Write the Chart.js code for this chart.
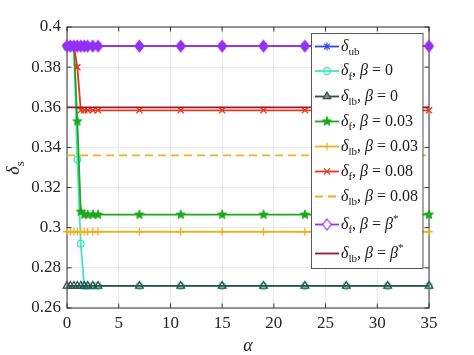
<!DOCTYPE html>
<html><head><meta charset="utf-8">
<script src="https://cdn.jsdelivr.net/npm/chart.js@4.4.0/dist/chart.umd.min.js"></script>
<style>html,body{margin:0;padding:0;background:#fff;}#wrap{width:474px;height:355px;position:relative;}</style>
</head><body><div id="wrap"><canvas id="c" width="474" height="355"></canvas></div>
<script>
// ---- data ----
const alpha = [0, 0.33, 0.67, 1, 1.33, 1.67, 2, 2.5, 3, 7, 11, 15, 19, 23, 27, 31, 35];
const deltaUb      = [0.3905,0.3905,0.3905,0.3905,0.3905,0.3905,0.3905,0.3905,0.3905,0.3905,0.3905,0.3905,0.3905,0.3905,0.3905,0.3905,0.3905];
const deltaF_b0    = [0.3905,0.3905,0.3905,0.334,0.292,0.271,0.271,0.271,0.271,0.271,0.271,0.271,0.271,0.271,0.271,0.271,0.271];
const deltaLb_b0   = [0.271,0.271,0.271,0.271,0.271,0.271,0.271,0.271,0.271,0.271,0.271,0.271,0.271,0.271,0.271,0.271,0.271];
const deltaF_b003  = [0.3905,0.3905,0.3905,0.353,0.308,0.3065,0.3065,0.3065,0.3065,0.3065,0.3065,0.3065,0.3065,0.3065,0.3065,0.3065,0.3065];
const deltaLb_b003 = [0.298,0.298,0.298,0.298,0.298,0.298,0.298,0.298,0.298,0.298,0.298,0.298,0.298,0.298,0.298,0.298,0.298];
const deltaF_b008  = [0.3905,0.3905,0.3905,0.38,0.3585,0.3585,0.3585,0.3585,0.3585,0.3585,0.3585,0.3585,0.3585,0.3585,0.3585,0.3585,0.3585];
const deltaLb_b008 = [0.336,0.336,0.336,0.336,0.336,0.336,0.336,0.336,0.336,0.336,0.336,0.336,0.336,0.336,0.336,0.336,0.336];
const deltaF_bs    = [0.3905,0.3905,0.3905,0.3905,0.3905,0.3905,0.3905,0.3905,0.3905,0.3905,0.3905,0.3905,0.3905,0.3905,0.3905,0.3905,0.3905];
const deltaLb_bs   = [0.36,0.36,0.36,0.36,0.36,0.36,0.36,0.36,0.36,0.36,0.36,0.36,0.36,0.36,0.36,0.36,0.36];
const xTicks = [0, 5, 10, 15, 20, 25, 30, 35];
const xTickLabels = ['0','5','10','15','20','25','30','35'];
const yTicks = [0.26, 0.28, 0.30, 0.32, 0.34, 0.36, 0.38, 0.40];
const yTickLabels = ['0.26','0.28','0.3','0.32','0.34','0.36','0.38','0.4'];

// ---- marker images ----
function starImg(color, R, fill) {
  const s = Math.ceil(2*R+4), c = document.createElement('canvas'); c.width = s; c.height = s;
  const g = c.getContext('2d'); g.beginPath();
  for (let i = 0; i < 10; i++) {
    const r = i % 2 ? R*0.42 : R, a = -Math.PI/2 + i*Math.PI/5;
    const px = s/2 + r*Math.cos(a), py = s/2 + r*Math.sin(a);
    i ? g.lineTo(px, py) : g.moveTo(px, py);
  }
  g.closePath(); g.fillStyle = fill; g.fill(); g.strokeStyle = color; g.lineWidth = 1; g.stroke();
  return c;
}
function diamondImg(color, hw, hh, fill) {
  const w = Math.ceil(2*hw+4), h = Math.ceil(2*hh+4), c = document.createElement('canvas'); c.width = w; c.height = h;
  const g = c.getContext('2d'); g.beginPath();
  g.moveTo(w/2, h/2-hh); g.lineTo(w/2+hw, h/2); g.lineTo(w/2, h/2+hh); g.lineTo(w/2-hw, h/2); g.closePath();
  g.fillStyle = fill; g.fill(); g.strokeStyle = color; g.lineWidth = 1.2; g.stroke();
  return c;
}
const C = {
  blue:'#2b4de6', cyan:'#44e4c0', slate:'#2f4f4f', green:'#1ca81c',
  yellow:'#edb120', red:'#e8381c', purple:'#9430f5', darkred:'#a2142f'
};
const greenStar = starImg(C.green, 4.8, C.green);
const purpleDiamond = diamondImg(C.purple, 4.5, 5.7, C.purple);
const purpleDiamondLegend = diamondImg(C.purple, 4.3, 5.5, '#ffffff');

function pts(ys) { return alpha.map((a, i) => ({x: a, y: ys[i]})); }
const series = [
  {label:'ub',    data: deltaUb,      color:C.blue,   pointStyle:'star',     r:4,   bg:C.blue},
  {label:'f0',    data: deltaF_b0,    color:C.cyan,   pointStyle:'circle',   r:3.3, bg:'rgba(0,0,0,0)'},
  {label:'lb0',   data: deltaLb_b0,   color:C.slate,  pointStyle:'triangle', r:4.4, bg:'rgba(0,0,0,0)'},
  {label:'f003',  data: deltaF_b003,  color:C.green,  pointStyle:greenStar,  r:4.8, bg:C.green},
  {label:'lb003', data: deltaLb_b003, color:C.yellow, pointStyle:'cross',    r:3.8, bg:C.yellow},
  {label:'f008',  data: deltaF_b008,  color:C.red,    pointStyle:'crossRot', r:4.4, bg:C.red},
  {label:'lb008', data: deltaLb_b008, color:C.yellow, pointStyle:false,      r:0,   bg:C.yellow, dash:[8,5]},
  {label:'fs',    data: deltaF_bs,    color:C.purple, pointStyle:purpleDiamond, r:5.7, bg:C.purple},
  {label:'lbs',   data: deltaLb_bs,   color:C.darkred,pointStyle:false,      r:0,   bg:C.darkred}
];
const N = series.length;
const datasets = series.map((s, i) => ({
  label: s.label, data: pts(s.data), borderColor: s.color, backgroundColor: s.bg,
  borderWidth: 1.8, borderDash: s.dash || [], pointStyle: s.pointStyle || 'circle',
  pointRadius: s.pointStyle ? s.r : 0, pointHoverRadius: s.pointStyle ? s.r : 0,
  pointBorderColor: s.color, pointBackgroundColor: s.bg, pointBorderWidth: 1.3,
  tension: 0, fill: false, clip: false, order: N - i
}));

// ---- rich text helper ----
const SERIF = '"Liberation Serif", "DejaVu Serif", serif';
function richWidth(ctx, parts) { let w = 0; parts.forEach(p => { ctx.font = p.f; w += ctx.measureText(p.t).width; }); return w; }
function drawRich(ctx, x, y, parts) {
  parts.forEach(p => { ctx.font = p.f; ctx.fillText(p.t, x, y + (p.dy || 0)); x += ctx.measureText(p.t).width; });
}
const IT = 'italic 16px ' + SERIF, RM = '16px ' + SERIF, SUB = '11px ' + SERIF;
const legendItems = [
  [{t:'δ',f:IT},{t:'ub',f:SUB,dy:4.5}],
  [{t:'δ',f:IT},{t:'f',f:SUB,dy:4.5},{t:', ',f:RM},{t:'β',f:IT},{t:' = 0',f:RM}],
  [{t:'δ',f:IT},{t:'lb',f:SUB,dy:4.5},{t:', ',f:RM},{t:'β',f:IT},{t:' = 0',f:RM}],
  [{t:'δ',f:IT},{t:'f',f:SUB,dy:4.5},{t:', ',f:RM},{t:'β',f:IT},{t:' = 0.03',f:RM}],
  [{t:'δ',f:IT},{t:'lb',f:SUB,dy:4.5},{t:', ',f:RM},{t:'β',f:IT},{t:' = 0.03',f:RM}],
  [{t:'δ',f:IT},{t:'f',f:SUB,dy:4.5},{t:', ',f:RM},{t:'β',f:IT},{t:' = 0.08',f:RM}],
  [{t:'δ',f:IT},{t:'lb',f:SUB,dy:4.5},{t:', ',f:RM},{t:'β',f:IT},{t:' = 0.08',f:RM}],
  [{t:'δ',f:IT},{t:'f',f:SUB,dy:4.5},{t:', ',f:RM},{t:'β',f:IT},{t:' = ',f:RM},{t:'β',f:IT},{t:'*',f:SUB,dy:-7}],
  [{t:'δ',f:IT},{t:'lb',f:SUB,dy:4.5},{t:', ',f:RM},{t:'β',f:IT},{t:' = ',f:RM},{t:'β',f:IT},{t:'*',f:SUB,dy:-7}]
];
const legendY = [46.5, 71, 96.5, 121.5, 146.5, 171.5, 196.5, 224.5, 253.5];

const framePlugin = {
  id: 'frame',
  beforeDatasetsDraw(chart) {
    const {ctx, chartArea: a, scales} = chart;
    ctx.save();
    ctx.strokeStyle = '#333333'; ctx.lineWidth = 1;
    ctx.strokeRect(a.left, a.top, a.right - a.left, a.bottom - a.top);
    ctx.beginPath();
    xTicks.forEach(v => { const px = scales.x.getPixelForValue(v);
      ctx.moveTo(px, a.bottom); ctx.lineTo(px, a.bottom - 4.5);
      ctx.moveTo(px, a.top); ctx.lineTo(px, a.top + 4.5); });
    yTicks.forEach(v => { const py = scales.y.getPixelForValue(v);
      ctx.moveTo(a.left, py); ctx.lineTo(a.left + 4.5, py);
      ctx.moveTo(a.right, py); ctx.lineTo(a.right - 4.5, py); });
    ctx.stroke();
    ctx.restore();
  },
  afterDraw(chart) {
    const {ctx, chartArea: a} = chart;
    ctx.save();
    ctx.fillStyle = '#262626'; ctx.textBaseline = 'alphabetic';
    // x title
    const xt = [{t:'α', f:'italic 18px ' + SERIF}];
    drawRich(ctx, (a.left + a.right)/2 - richWidth(ctx, xt)/2, 351, xt);
    // y title
    const yt = [{t:'δ', f:'italic 18px ' + SERIF}, {t:'s', f:'13px ' + SERIF, dy:5}];
    ctx.save(); ctx.translate(19, 168); ctx.rotate(-Math.PI/2);
    drawRich(ctx, -richWidth(ctx, yt)/2, 0, yt); ctx.restore();
    // legend box
    const L = 311, T = 33, R = 422.5, B = 268;
    ctx.fillStyle = '#ffffff'; ctx.fillRect(L, T, R - L, B - T);
    ctx.strokeStyle = '#555555'; ctx.lineWidth = 1; ctx.strokeRect(L + 0.5, T + 0.5, R - L, B - T);
    series.forEach((s, i) => {
      const y = legendY[i];
      ctx.save();
      ctx.strokeStyle = s.color; ctx.lineWidth = 1.8; ctx.setLineDash(s.dash || []);
      ctx.beginPath(); ctx.moveTo(315, y); ctx.lineTo(339, y); ctx.stroke();
      ctx.setLineDash([]);
      if (s.pointStyle) {
        let ps = s.pointStyle;
        if (ps === purpleDiamond) ps = purpleDiamondLegend;
        ctx.strokeStyle = s.color; ctx.fillStyle = s.pointStyle === 'triangle' ? '#8a8a8a' : s.bg; ctx.lineWidth = 1.2;
        Chart.helpers.drawPoint(ctx, {pointStyle: ps, radius: s.r, rotation: 0, borderWidth: 1.2}, 327, y);
      }
      ctx.restore();
      ctx.fillStyle = '#1a1a1a';
      drawRich(ctx, 341, y + 4, legendItems[i]);
    });
    ctx.restore();
  }
};

new Chart(document.getElementById('c'), {
  type: 'line',
  data: { datasets },
  options: {
    responsive: false, animation: false, devicePixelRatio: 1,
    layout: { padding: { left: 0, top: 27, right: 45, bottom: 0 } },
    plugins: { legend: { display: false }, tooltip: { enabled: false } },
    events: [],
    scales: {
      x: {
        type: 'linear', min: 0, max: 35,
        afterBuildTicks: s => { s.ticks = xTicks.map(v => ({ value: v })); },
        afterFit: s => { s.height = 47; },
        ticks: { autoSkip: false, maxRotation: 0, padding: 5, color: '#262626',
          font: { family: SERIF, size: 17 }, callback: (v, i) => xTickLabels[i] },
        grid: { color: '#e8e8e8', drawTicks: false, lineWidth: 1 },
        border: { display: false }
      },
      y: {
        type: 'linear', min: 0.26, max: 0.40,
        afterBuildTicks: s => { s.ticks = yTicks.map(v => ({ value: v })); },
        afterFit: s => { s.width = 67; },
        ticks: { autoSkip: false, padding: 6, color: '#262626',
          font: { family: SERIF, size: 17 }, callback: (v, i) => yTickLabels[i] },
        grid: { color: '#e8e8e8', drawTicks: false, lineWidth: 1 },
        border: { display: false }
      }
    }
  },
  plugins: [framePlugin]
});
</script></body></html>
